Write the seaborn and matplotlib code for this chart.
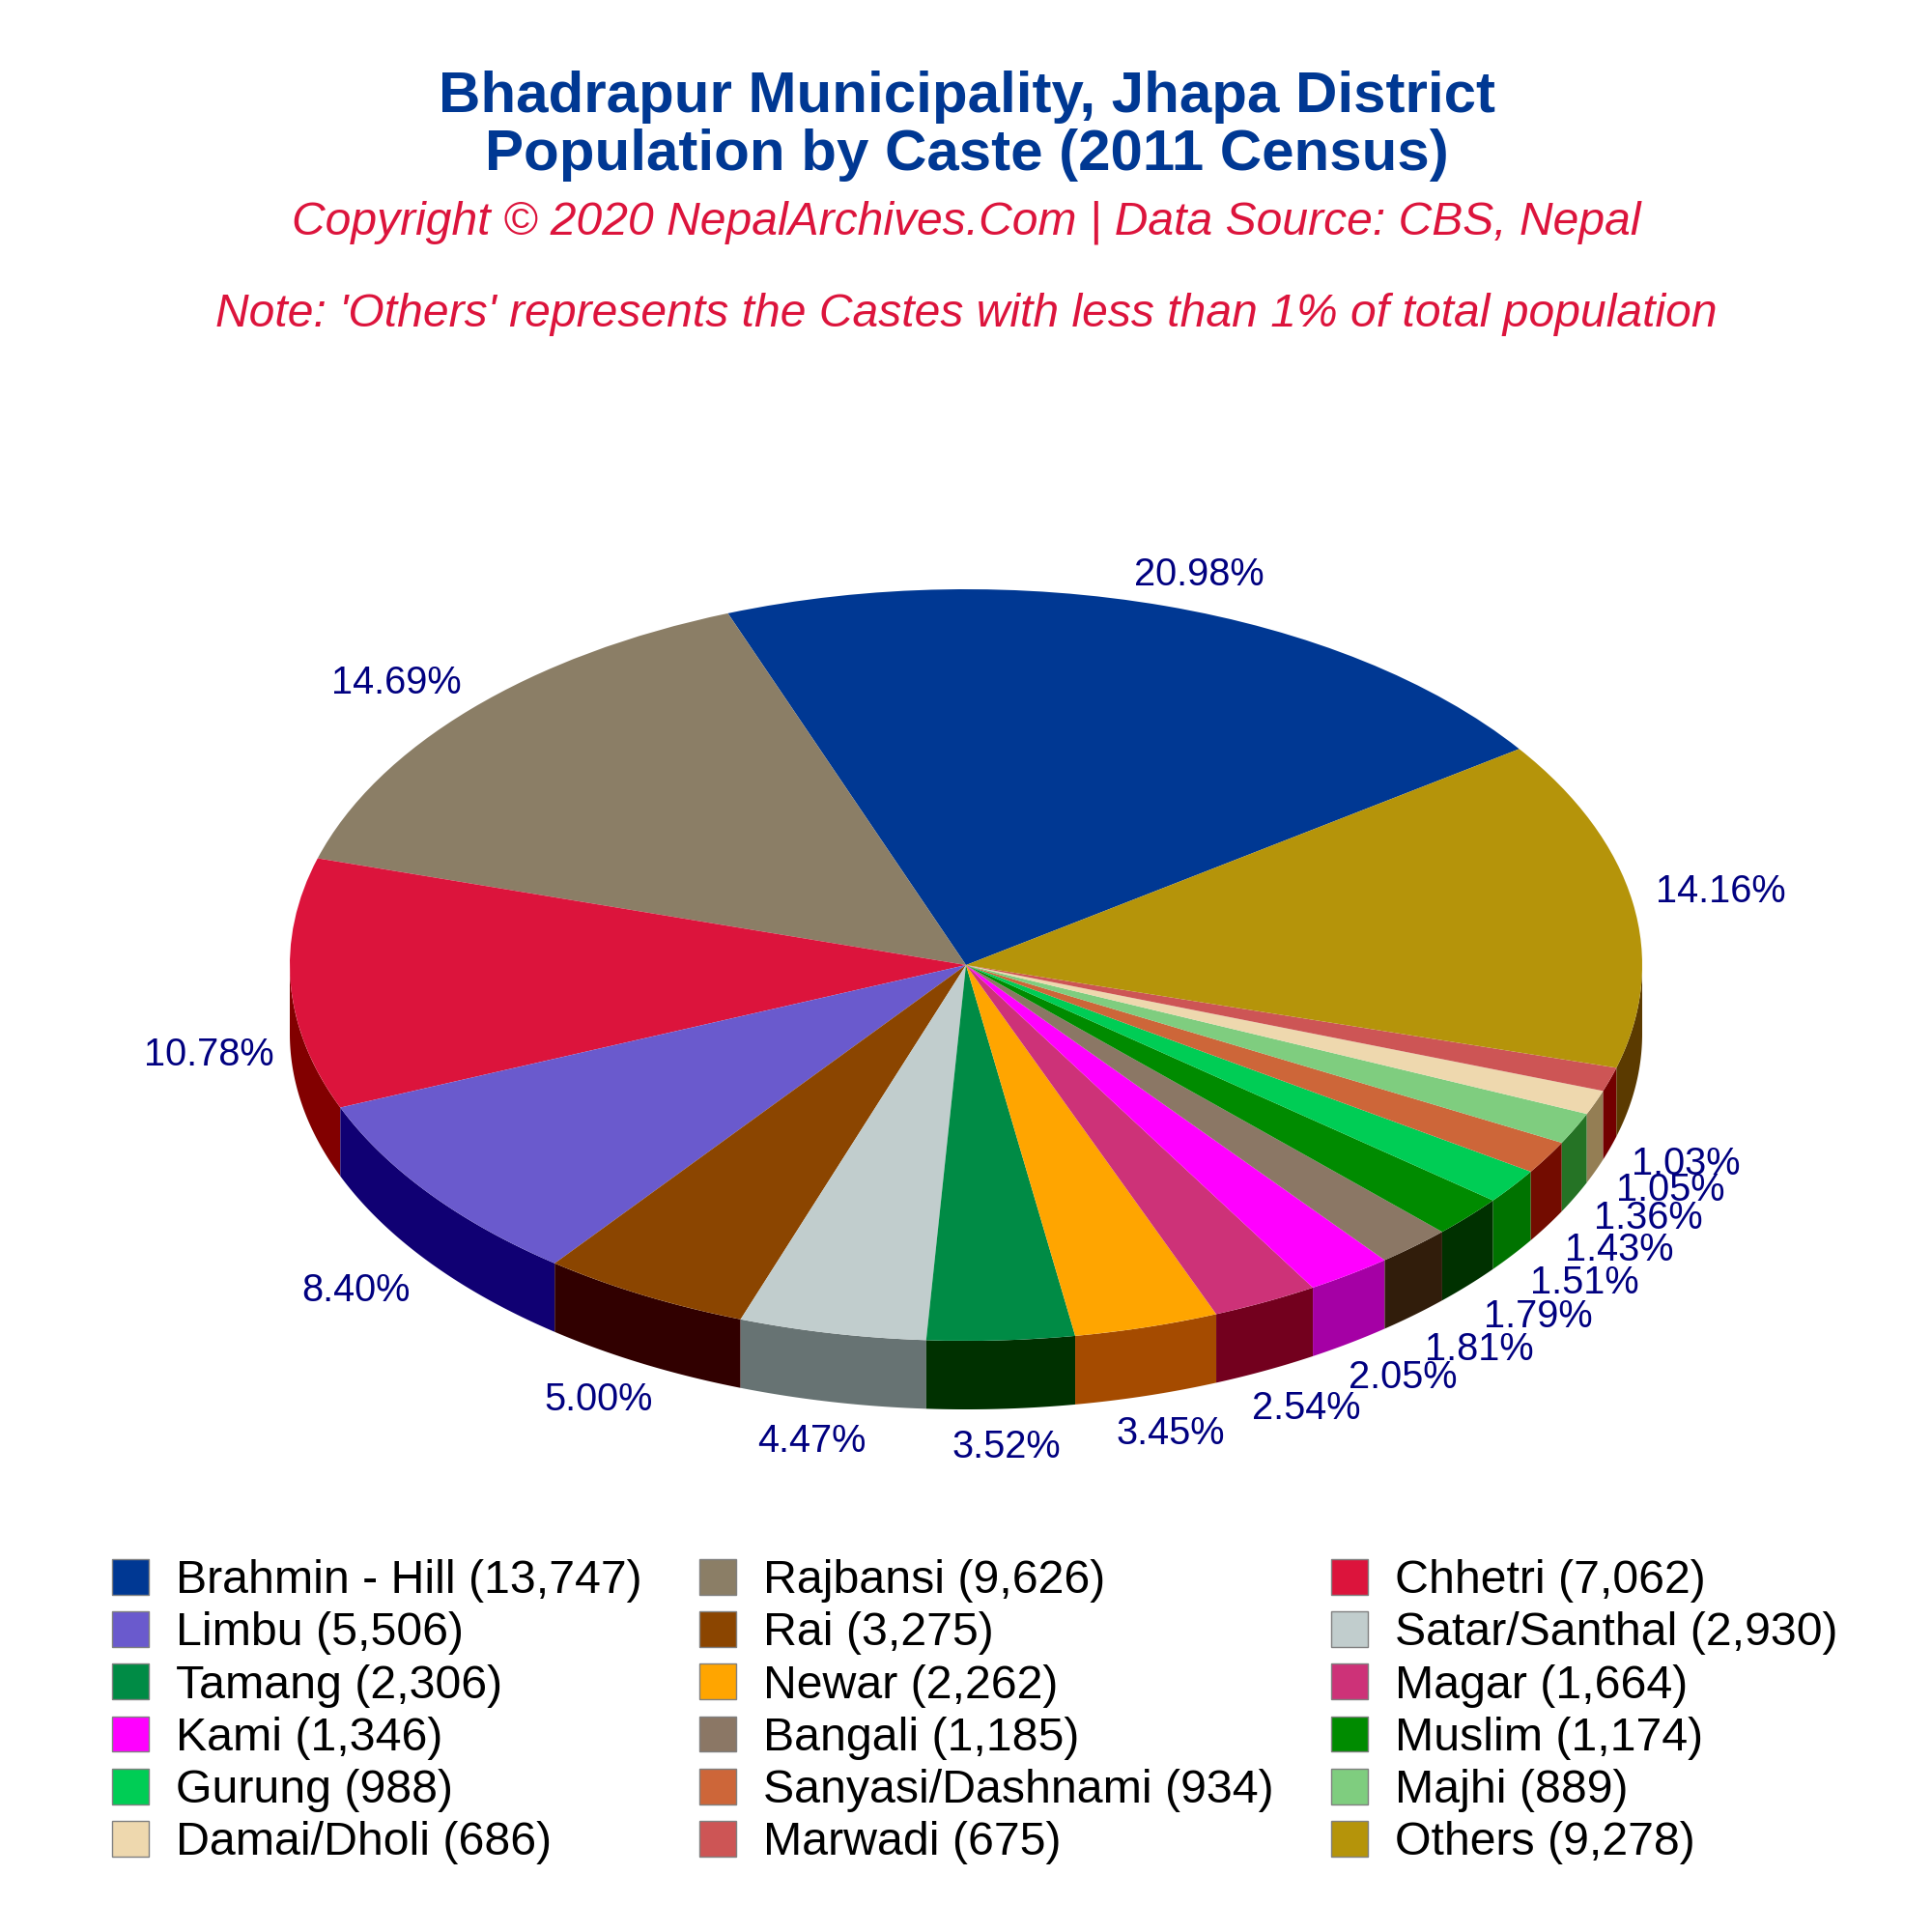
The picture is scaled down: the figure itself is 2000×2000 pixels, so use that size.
import numpy as np
import seaborn as sns
import matplotlib.pyplot as plt
import matplotlib.colors as mcolors

names = ["Brahmin - Hill", "Rajbansi", "Chhetri", "Limbu", "Rai", "Satar/Santhal",
         "Tamang", "Newar", "Magar", "Kami", "Bangali", "Muslim",
         "Gurung", "Sanyasi/Dashnami", "Majhi", "Damai/Dholi", "Marwadi", "Others"]
population = [13747, 9626, 7062, 5506, 3275, 2930,
              2306, 2262, 1664, 1346, 1185, 1174,
              988, 934, 889, 686, 675, 9278]
colors = ["#003893", "#8B7E66", "#DC143C", "#6A5ACD", "#8B4500", "#C1CDCD",
          "#008B45", "#FFA500", "#CD3278", "#FF00FF", "#8B7765", "#008B00",
          "#00CD55", "#CD6639", "#7FCD7F", "#EED8AE", "#CD5555", "#B5940A"]

sns.set_theme(style="white")
plt.rcParams['font.family'] = ['Liberation Sans', 'DejaVu Sans']

# pixel layout of the tilted pie
cx, cy = 1000, 999
rx, ry = 700, 389
depth = 71 / ry

# labels sit on their own ellipse, with small shifts per label (pixels)
label_cy = 1003
label_rx, label_ry = 787.5, 426
label_dx = [9, -13, 2.5, -6, -5, -4, 1, 1, 3, 6, 9, 7, 4, 0, -2.5, -4, -4.5, 5]
label_dy = [1, 5.5, 5, -2.5, 0, 1, 2.5, 1, -1, 0, -2.5, -2.5, -2.5, -1, -1, -1, 0, 9]


def side_color(c):
    # walls are the top colour with 90 taken off each channel
    rgb = np.array(mcolors.to_rgb(c)) - 90 / 255
    return tuple(np.clip(rgb, 0, 1))


fig = plt.figure(figsize=(20, 20), dpi=100)
ax = fig.add_axes([0, 0, 1, 1])

wedges, _, pcts = ax.pie(population, colors=sns.color_palette(colors), startangle=35.1,
                         counterclock=True, autopct='%.2f%%', radius=1,
                         wedgeprops=dict(linewidth=0, zorder=3),
                         textprops=dict(color="#000080", fontsize=28.6, zorder=5))

ax.set_aspect('auto')
ax.set_xlim(-cx / rx, (2000 - cx) / rx)
ax.set_ylim(-(2000 - cy) / ry, cy / ry)

for i, (w, t, c) in enumerate(zip(wedges, pcts, colors)):
    # wall of the lower half only
    a1 = max(w.theta1, 180)
    a2 = min(w.theta2, 360)
    if a2 > a1:
        ang = np.radians(np.linspace(a1, a2, 60))
        xs = np.concatenate([np.cos(ang), np.cos(ang[::-1])])
        ys = np.concatenate([np.sin(ang), np.sin(ang[::-1]) - depth])
        ax.fill(xs, ys, color=side_color(c), linewidth=0, zorder=2)
    mid = np.radians((w.theta1 + w.theta2) / 2)
    px = label_rx * np.cos(mid) + label_dx[i]
    py = label_ry * np.sin(mid) + label_dy[i] + cy - label_cy
    if np.sin(mid) < 0:
        py -= 72
    t.set_position((px / rx, py / ry))
    t.set_ha('center')
    t.set_va('center')

fig.text(0.5003, 1 - 115.5 / 2000, "Bhadrapur Municipality, Jhapa District", ha='center', va='baseline',
         fontsize=43.2, fontweight='bold', color="#003893")
fig.text(0.5003, 1 - 176.5 / 2000, "Population by Caste (2011 Census)", ha='center', va='baseline',
         fontsize=43.2, fontweight='bold', color="#003893")
fig.text(0.5003, 1 - 242.5 / 2000, "Copyright © 2020 NepalArchives.Com | Data Source: CBS, Nepal", ha='center',
         va='baseline', fontsize=34.6, fontstyle='italic', color="#DC143C")
fig.text(0.5003, 1 - 338.5 / 2000, "Note: 'Others' represents the Castes with less than 1% of total population",
         ha='center', va='baseline', fontsize=34.6, fontstyle='italic', color="#DC143C")

labels = [f"{n} ({v:,})" for n, v in zip(names, population)]
order = list(range(0, 18, 3)) + list(range(1, 18, 3)) + list(range(2, 18, 3))
leg = fig.legend([wedges[i] for i in order], [labels[i] for i in order], ncol=3,
                 loc='upper left', bbox_to_anchor=(116 / 2000, 1 - 1614 / 2000),
                 frameon=False, fontsize=34.74, borderaxespad=0, borderpad=0,
                 handlelength=0.79, handleheight=0.79, handletextpad=0.58,
                 columnspacing=1.23, labelspacing=0.19, labelcolor="black")
for h in leg.legend_handles:
    h.set_edgecolor("#808080")
    h.set_linewidth(1)

plt.savefig("out.png", dpi=100)
